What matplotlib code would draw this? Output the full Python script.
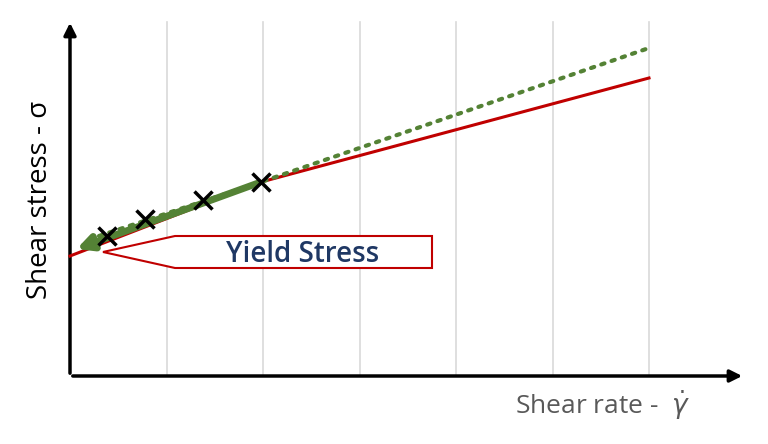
import matplotlib.pyplot as plt
from matplotlib.patches import Polygon

# measured data (x in grid units, y in arbitrary stress units)
grid_x = [1, 2, 3, 4, 5, 6]
meas_x = [0.38, 0.78, 1.38, 1.98]
meas_y = [1.40, 1.57, 1.76, 1.94]
red_x = [0.0, 1.98, 6.0]
red_y = [1.20, 1.94, 2.98]
fit_x = [0.1, 1.98]
fit_y = [1.30, 1.94]
dot_x = [0.3, 1.98, 6.0]
dot_y = [1.40, 1.94, 3.28]

fig = plt.figure(figsize=(7.68, 4.44), dpi=100)
ax = fig.add_axes([0, 0, 1, 1])
sx = 96.5
ax.set_xlim(-70 / sx, (768 - 70) / sx)
ax.set_ylim(-(444 - 376) / 100, 376 / 100)
ax.axis("off")

for g in grid_x:
    ax.plot([g, g], [0, 3.54], color="#d9d9d9", lw=1.2, zorder=1)

# axes with arrows
ax.annotate("", xy=(675 / sx, 0), xytext=(0, 0), annotation_clip=False,
            arrowprops=dict(arrowstyle="-|>", color="black", lw=2.5, mutation_scale=18), zorder=2)
ax.annotate("", xy=(0, 3.56), xytext=(0, 0), annotation_clip=False,
            arrowprops=dict(arrowstyle="-|>", color="black", lw=2.5, mutation_scale=18), zorder=2)

ax.plot(red_x, red_y, color="#c00000", lw=2.2, zorder=3)
ax.plot(dot_x, dot_y, color="#548235", lw=3, ls=(0, (0.8, 1.8)), dash_capstyle="round", zorder=3)
ax.annotate("", xy=(0.04, 1.26), xytext=(fit_x[1], fit_y[1]),
            arrowprops=dict(arrowstyle="-|>", color="#548235", lw=5, mutation_scale=22), zorder=4)
ax.plot(meas_x, meas_y, ls="none", marker="x", ms=13, mew=2.5, color="black", zorder=5)

# callout
callout = Polygon([((175 - 70) / sx, 1.40), ((432 - 70) / sx, 1.40), ((432 - 70) / sx, 1.08),
                   ((175 - 70) / sx, 1.08), ((103 - 70) / sx, 1.24)],
                  closed=True, facecolor="white", edgecolor="#c00000", lw=1.5, zorder=6)
ax.add_patch(callout)
ax.text((303 - 70) / sx, 1.21, "Yield Stress", ha="center", va="center", fontsize=20,
        fontweight="semibold", color="#1f3864", family="Open Sans", zorder=7)

ax.text((40 - 70) / sx, 1.76, "Shear stress - σ", rotation=90, ha="center", va="center",
        fontsize=20, family="Open Sans", color="black")
ax.text((603 - 70) / sx, -0.29, r"Shear rate -  $\dot{\gamma}$", ha="center", va="center",
        fontsize=19, family="Open Sans", color="#595959")

fig.savefig("out.png", dpi=100)
